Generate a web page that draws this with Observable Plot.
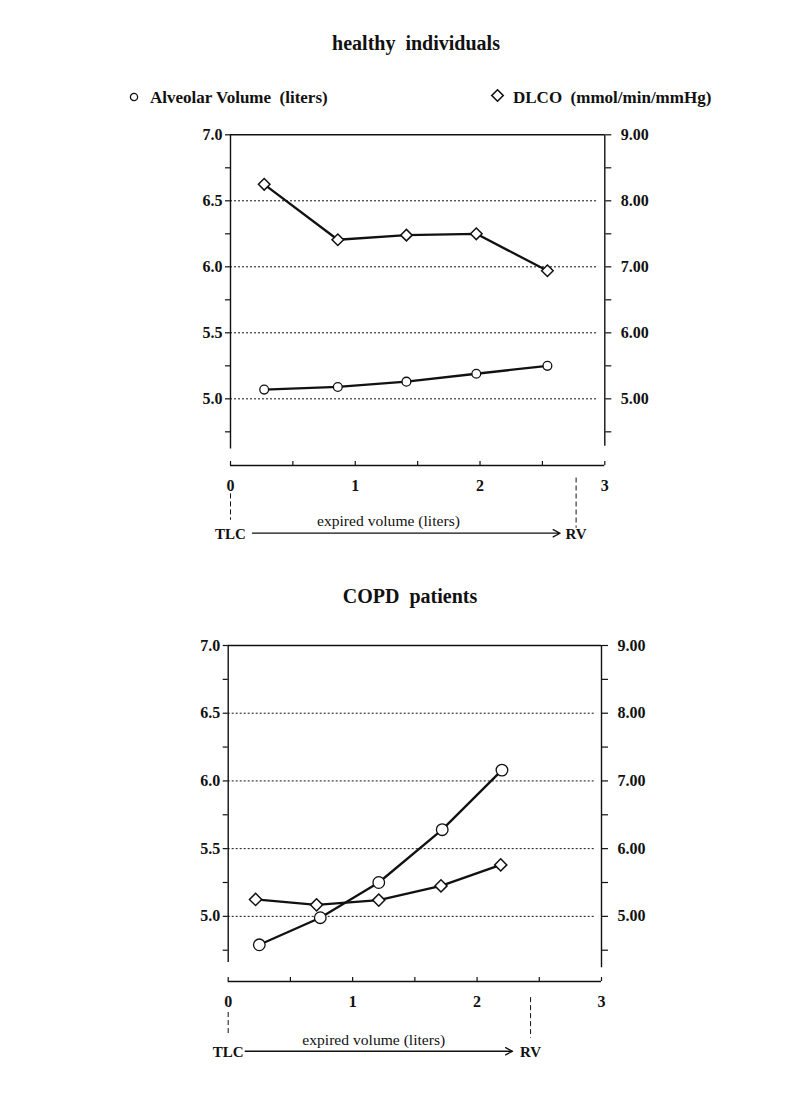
<!DOCTYPE html>
<html><head><meta charset="utf-8">
<script src="https://cdn.jsdelivr.net/npm/d3@7"></script>
<script src="https://cdn.jsdelivr.net/npm/@observablehq/plot@0.6"></script>
<style>
html,body{margin:0;padding:0;background:#fff;overflow:hidden;}
#page{position:relative;width:785px;height:1099px;overflow:hidden;font-family:"Liberation Serif","Times New Roman",serif;color:#111;}
.t{position:absolute;white-space:nowrap;line-height:1;}
.title{font-weight:bold;font-size:20px;transform:translateX(-50%);}
.leg{font-weight:bold;font-size:17px;}
.panel{font-family:"Liberation Sans",Arial,sans-serif;font-size:27px;}
.plot{position:absolute;left:0;}
</style></head>
<body><div id="page">
<div class="t title" style="left:416px;top:33px">healthy&nbsp; individuals</div>
<svg class="t" style="left:128px;top:91px" width="12" height="12"><circle cx="6" cy="6" r="3.6" fill="none" stroke="#111" stroke-width="1.3"/></svg>
<div class="t leg" style="left:150px;top:88.5px">Alveolar Volume&nbsp; (liters)</div>
<svg class="t" style="left:490px;top:88px" width="15" height="15"><path d="M7.5,1.8L13.2,7.5L7.5,13.2L1.8,7.5Z" fill="none" stroke="#111" stroke-width="1.6"/></svg>
<div class="t leg" style="left:513px;top:88.5px">DLCO&nbsp; (mmol/min/mmHg)</div>
<div class="t panel" style="left:37px;top:258px">panel A</div>
<div class="t title" style="left:410px;top:586px">COPD&nbsp; patients</div>
<div class="t panel" style="left:37px;top:773px">panel B</div>
<div id="pa" class="plot" style="top:110px"></div>
<div id="pb" class="plot" style="top:620px"></div>
</div>
<script>
// ---- data ----
// panel A: healthy individuals
const xA = [0.27, 0.86, 1.41, 1.97, 2.54];
const alvVolA = [5.07, 5.09, 5.13, 5.19, 5.25];       // liters (left axis)
const dlcoA = [8.25, 7.41, 7.48, 7.50, 6.94];         // mmol/min/mmHg (right axis)
// panel B: COPD patients
const xAlvB = [0.25, 0.74, 1.21, 1.72, 2.20];
const alvVolB = [4.79, 4.99, 5.25, 5.64, 6.08];
const xDlcoB = [0.22, 0.71, 1.21, 1.71, 2.19];
const dlcoB = [5.25, 5.17, 5.24, 5.45, 5.76];
// axes
const leftTicks = [4.75, 5, 5.25, 5.5, 5.75, 6, 6.25, 6.5, 6.75, 7];
const gridLines = [5, 5.5, 6, 6.5];
const xMinorTicks = [0, 0.5, 1, 1.5, 2, 2.5, 3];
const xLabels = [0, 1, 2, 3];
const markersA = [{label: "TLC", x: 0}, {label: "RV", x: 2.77}];
const markersB = [{label: "TLC", x: 0}, {label: "RV", x: 2.43}];

const ink = "#111";
const toLeft = v => (v + 5) / 2; // right-axis (DLCO) units -> left-axis units

function panel(o) {
  const av = o.xAv.map((x, i) => ({x, y: o.av[i]}));
  const dl = o.xDl.map((x, i) => ({x, y: toLeft(o.dl[i])}));
  const m = o.markers;
  return Plot.plot({
    width: 785, height: o.height,
    marginLeft: o.marginLeft, marginRight: o.marginRight,
    marginTop: o.marginTop, marginBottom: o.marginBottom,
    x: {domain: [0, 3], label: null},
    y: {domain: [o.yMin, 7], label: null},
    style: {fontFamily: "Liberation Serif, Times New Roman, serif", fontSize: "16px", fontWeight: "bold", color: ink, background: "white", overflow: "visible"},
    marks: [
      Plot.ruleY(gridLines, {x1: 0, x2: 2.95, stroke: ink, strokeWidth: 1, strokeDasharray: "2,2"}),
      Plot.ruleY([7], {x1: 0, x2: 3, stroke: ink, strokeWidth: 1.4}),
      Plot.ruleX([0], {y1: o.leftEnd, y2: 7, stroke: ink, strokeWidth: 1.4}),
      Plot.ruleX([3], {y1: o.rightEnd, y2: 7, stroke: ink, strokeWidth: 1.4}),
      Plot.ruleY([o.yMin], {x1: 0, x2: 3, stroke: ink, strokeWidth: 1.4}),
      Plot.axisY({ticks: leftTicks, tickSize: 5, tickPadding: 3, strokeWidth: 1.2, label: null,
        tickFormat: d => Number.isInteger(d * 2) ? d.toFixed(1) : ""}),
      Plot.axisY({anchor: "right", ticks: leftTicks, tickSize: 6, tickPadding: 10, strokeWidth: 1.2, label: null,
        tickFormat: d => Number.isInteger(d * 2) ? (2 * d - 5).toFixed(2) : ""}),
      Plot.axisX({ticks: xMinorTicks, tickSize: -4, strokeWidth: 1.2, label: null, tickFormat: () => ""}),
      Plot.axisX({ticks: xLabels, tickSize: 0, tickPadding: 14, label: null, tickFormat: d3.format("d")}),
      Plot.ruleX(m, {x: "x", y1: d => d.x === 0 ? o.dashLeft[0] : o.dashRight[0], y2: d => d.x === 0 ? o.dashLeft[1] : o.dashRight[1],
        stroke: ink, strokeWidth: 1, strokeDasharray: "5,3"}),
      Plot.arrow([m], {x1: d => d[0].x, x2: d => d[1].x, y1: o.arrowY, y2: o.arrowY,
        insetStart: o.insetStart, insetEnd: o.insetEnd, stroke: ink, strokeWidth: 1.3, headLength: 9, headAngle: 55}),
      Plot.text(m, {x: "x", y: o.arrowY, text: "label", dy: 1, fontSize: 15, fontWeight: "bold", fill: ink}),
      Plot.text(["expired volume (liters)"], {x: o.labelX, y: o.labelY, text: d => d, fontSize: 15.6, fontWeight: "normal", fill: ink}),
      Plot.line(dl, {x: "x", y: "y", stroke: ink, strokeWidth: 2.3}),
      Plot.line(av, {x: "x", y: "y", stroke: ink, strokeWidth: 2.3}),
      Plot.dot(dl, {x: "x", y: "y", symbol: "diamond2", r: o.rDl, fill: "white", stroke: ink, strokeWidth: 1.5}),
      Plot.dot(av, {x: "x", y: "y", symbol: "circle", r: o.rAv, fill: "white", stroke: ink, strokeWidth: 1.3})
    ]
  });
}

document.getElementById("pa").append(panel({
  xAv: xA, av: alvVolA, xDl: xA, dl: dlcoA, markers: markersA,
  height: 440, marginLeft: 230, marginRight: 180.7, marginTop: 24.3, marginBottom: 85,
  yMin: 4.495, leftEnd: 4.62, rightEnd: 4.64,
  dashLeft: [4.28, 4.08], dashRight: [4.40, 4.02], arrowY: 3.982,
  insetStart: 22, insetEnd: 16, labelX: 1.266, labelY: 4.078, rAv: 4.4, rDl: 5.2
}));
document.getElementById("pb").append(panel({
  xAv: xAlvB, av: alvVolB, xDl: xDlcoB, dl: dlcoB, markers: markersB,
  height: 440, marginLeft: 227.7, marginRight: 184, marginTop: 25, marginBottom: 79,
  yMin: 4.519, leftEnd: 4.66, rightEnd: 4.62,
  dashLeft: [4.29, 4.12], dashRight: [4.40, 4.10], arrowY: 4.004,
  insetStart: 17, insetEnd: 18, labelX: 1.17, labelY: 4.088, rAv: 5.8, rDl: 5.5
}));
</script>
</body></html>
